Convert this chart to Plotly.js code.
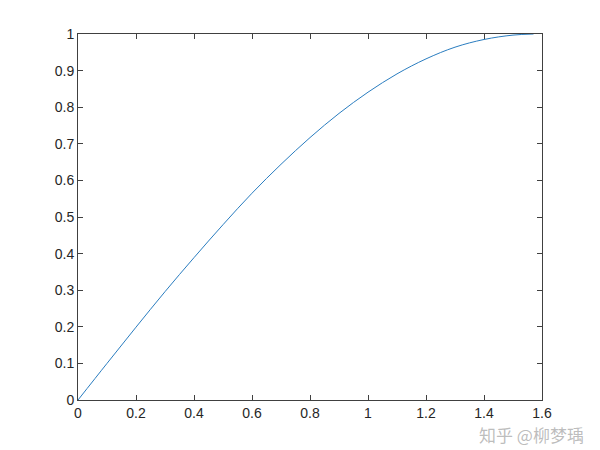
<!DOCTYPE html>
<html>
<head>
<meta charset="utf-8">
<script src="https://cdn.plot.ly/plotly-3.0.1.min.js"></script>
<style>html,body{margin:0;padding:0;background:#fff;}#chart{width:600px;height:450px;}</style>
</head>
<body>
<div id="chart"></div>
<script>
const xValues = [0, 0.1, 0.2, 0.3, 0.4, 0.5, 0.6, 0.7, 0.8, 0.9, 1.0, 1.1, 1.2, 1.3, 1.4, 1.5, 1.5708];
const yValues = [0, 0.1, 0.199, 0.296, 0.389, 0.479, 0.565, 0.644, 0.717, 0.783, 0.841, 0.891, 0.932, 0.964, 0.985, 0.997, 1.0];
const watermark = "知乎 @柳梦瑀";

const axisCommon = {
  showgrid: false, zeroline: false, showline: true, mirror: 'ticks',
  linecolor: '#404040', linewidth: 1,
  ticks: 'inside', ticklen: 5, tickcolor: '#404040', tickwidth: 1,
  tickfont: {family: 'Liberation Sans, Arial, sans-serif', size: 14, color: '#262626'}
};

const trace = {
  x: xValues, y: yValues, type: 'scatter', mode: 'lines',
  line: {color: '#2a7dc0', width: 1, shape: 'spline'}
};

const layout = {
  width: 600, height: 450,
  margin: {l: 78, r: 58, t: 34, b: 50},
  paper_bgcolor: '#ffffff', plot_bgcolor: '#ffffff',
  showlegend: false,
  xaxis: Object.assign({}, axisCommon, {range: [0, 1.6], dtick: 0.2, tick0: 0}),
  yaxis: Object.assign({}, axisCommon, {range: [0, 1], dtick: 0.1, tick0: 0}),
  annotations: [{
    xref: 'paper', yref: 'paper', x: 1.095, y: -0.055, xanchor: 'right', yanchor: 'top',
    text: watermark, showarrow: false,
    font: {family: 'Noto Sans CJK SC, sans-serif', size: 17, color: 'rgba(160,160,160,0.7)'}
  }]
};

Plotly.newPlot('chart', [trace], layout, {displayModeBar: false, staticPlot: true});
</script>
</body>
</html>
